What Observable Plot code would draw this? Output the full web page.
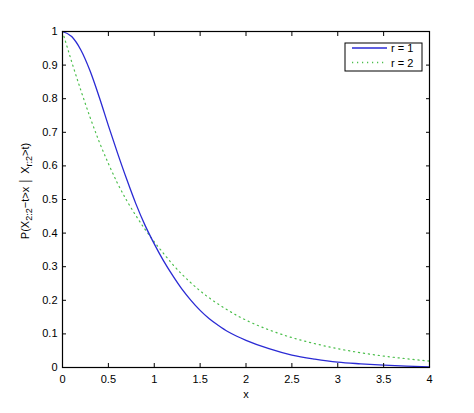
<!DOCTYPE html>
<html><head><meta charset="utf-8">
<script src="https://cdn.jsdelivr.net/npm/d3@7"></script>
<script src="https://cdn.jsdelivr.net/npm/@observablehq/plot@0.6"></script>
<style>
body{margin:0;background:#fff}
#chart svg{font-family:"Liberation Sans",Arial,Helvetica,sans-serif}
</style>
</head><body><div id="chart"></div>
<script>
// sample positions along x
const xs = [0,0.1,0.2,0.3,0.4,0.5,0.6,0.7,0.8,0.9,1.0,1.1,1.2,1.3,1.4,1.5,1.6,1.7,1.8,1.9,2.0,2.25,2.5,2.75,3.0,3.25,3.5,3.75,4.0];
// r = 1 (solid blue)
const r1 = [1.000,0.985,0.945,0.883,0.805,0.720,0.638,0.560,0.487,0.423,0.368,0.318,0.274,0.234,0.200,0.170,0.145,0.125,0.107,0.093,0.081,0.056,0.037,0.025,0.016,0.011,0.007,0.004,0.002];
// r = 2 (dotted green)
const r2 = [1.000,0.910,0.825,0.745,0.672,0.607,0.548,0.497,0.452,0.411,0.374,0.340,0.307,0.278,0.252,0.228,0.207,0.188,0.171,0.155,0.141,0.112,0.089,0.071,0.056,0.044,0.034,0.026,0.019];
const seriesNames = ["r = 1", "r = 2"];
const xTicks = [0,0.5,1,1.5,2,2.5,3,3.5,4];
const yTicks = [0,0.1,0.2,0.3,0.4,0.5,0.6,0.7,0.8,0.9,1];
const xLabel = "x";

const blue = "#2a2ad4";
const green = "#4cbf4c";
const dots = "1.2,3.8";
const font = '"Liberation Sans", Arial, Helvetica, sans-serif';
const W = 474, H = 413, mL = 62, mR = 45, mT = 31, mB = 46;

const s1 = xs.map((x, i) => ({x, y: r1[i]}));
const s2 = xs.map((x, i) => ({x, y: r2[i]}));

const plot = Plot.plot({
  width: W, height: H,
  marginLeft: mL, marginRight: mR, marginTop: mT, marginBottom: mB,
  style: {fontFamily: font, fontSize: "11px", color: "#000", background: "#fff", overflow: "visible"},
  x: {domain: [0, 4]},
  y: {domain: [0, 1]},
  marks: [
    Plot.line(s2, {x: "x", y: "y", stroke: green, strokeWidth: 1.2, strokeDasharray: dots, curve: "monotone-x"}),
    Plot.line(s1, {x: "x", y: "y", stroke: blue, strokeWidth: 1.3, curve: "monotone-x"}),
    Plot.frame({stroke: "#000", strokeWidth: 1.2}),
    // inward ticks on all four sides
    Plot.axisX(xTicks, {anchor: "bottom", tickSize: 4, dy: -4, fill: "none", label: null}),
    Plot.axisX(xTicks, {anchor: "top", tickSize: 4, dy: 4, fill: "none", label: null}),
    Plot.axisY(yTicks, {anchor: "left", tickSize: 4, dx: 4, fill: "none", label: null}),
    Plot.axisY(yTicks, {anchor: "right", tickSize: 4, dx: -4, fill: "none", label: null}),
    // tick labels
    Plot.axisX(xTicks, {anchor: "bottom", tickSize: 0, tickPadding: 8, label: null, tickFormat: d => String(d)}),
    Plot.axisY(yTicks, {anchor: "left", tickSize: 0, tickPadding: 5, label: null, tickFormat: d => String(d)}),
    Plot.text([xLabel], {frameAnchor: "bottom", dy: 27, text: d => d, lineAnchor: "middle", fontSize: 11})
  ]
});

document.getElementById("chart").appendChild(plot);
const svg = d3.select(plot);

// y-axis label with subscripts
const yl = svg.append("text")
  .attr("transform", `translate(29,${(mT + H - mB) / 2 - 8}) rotate(-90)`)
  .attr("text-anchor", "middle")
  .attr("font-size", 11)
  .attr("fill", "#000");
yl.append("tspan").text("P(X");
yl.append("tspan").attr("font-size", 9).attr("dy", 3).text("2:2");
yl.append("tspan").attr("dy", -3).text("\u2212t>x \u2502 X");
yl.append("tspan").attr("font-size", 9).attr("dy", 3).text("r:2");
yl.append("tspan").attr("dy", -3).text(">t)");

// legend box in the top-right of the frame
const frameRight = W - mR, frameTop = mT;
const lg = svg.append("g").attr("text-anchor", "start");
lg.append("rect").attr("x", frameRight - 84).attr("y", frameTop + 12).attr("width", 77).attr("height", 28)
  .attr("fill", "#fff").attr("stroke", "#000").attr("stroke-width", 1);
const legendRows = [{name: seriesNames[0], stroke: blue, dash: null}, {name: seriesNames[1], stroke: green, dash: dots}];
legendRows.forEach((r, i) => {
  const yy = frameTop + 17 + i * 14.5;
  lg.append("line").attr("x1", frameRight - 77).attr("x2", frameRight - 42).attr("y1", yy).attr("y2", yy)
    .attr("stroke", r.stroke).attr("stroke-width", 1.3).attr("stroke-dasharray", r.dash);
  lg.append("text").attr("x", frameRight - 38).attr("y", yy + 4).attr("font-size", 11).attr("fill", "#000").text(r.name);
});
</script>
</body></html>
